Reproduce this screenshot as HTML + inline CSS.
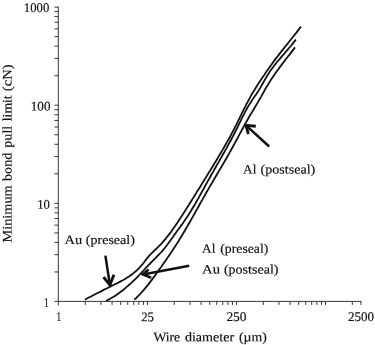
<!DOCTYPE html>
<html><head><meta charset="utf-8"><title>Minimum bond pull limit</title>
<style>
html,body{margin:0;padding:0;background:#fff}
svg{display:block}
text{font-family:"Liberation Serif","Times New Roman",serif;font-size:14px;fill:#111;stroke:#111;stroke-width:0.18px}
</style></head><body>
<svg width="375" height="345" viewBox="0 0 375 345">
<rect width="375" height="345" fill="#fff"/>
<path d="M58.30 6.61V305.50M54.40 301.40H361.42M54.40 271.96H58.30M54.40 254.68H58.30M54.40 242.42H58.30M54.40 232.91H58.30M54.40 225.14H58.30M54.40 218.57H58.30M54.40 212.88H58.30M54.40 207.86H58.30M54.40 203.37H58.30M54.40 173.83H58.30M54.40 156.55H58.30M54.40 144.29H58.30M54.40 134.78H58.30M54.40 127.01H58.30M54.40 120.44H58.30M54.40 114.75H58.30M54.40 109.73H58.30M54.40 105.24H58.30M54.40 75.70H58.30M54.40 58.42H58.30M54.40 46.16H58.30M54.40 36.65H58.30M54.40 28.88H58.30M54.40 22.31H58.30M54.40 16.62H58.30M54.40 11.60H58.30M54.40 7.11H58.30M85.29 301.50V304.90M100.96 301.50V304.90M112.08 301.50V304.90M120.71 301.50V304.90M127.76 301.50V304.90M133.71 301.50V304.90M138.88 301.50V304.90M143.43 301.50V304.90M147.50 301.50V304.90M174.29 301.50V304.90M189.96 301.50V304.90M201.08 301.50V304.90M209.71 301.50V304.90M216.76 301.50V304.90M222.71 301.50V304.90M227.88 301.50V304.90M232.43 301.50V304.90M236.50 301.50V304.90M263.29 301.50V304.90M278.96 301.50V304.90M290.08 301.50V304.90M298.71 301.50V304.90M305.76 301.50V304.90M311.71 301.50V304.90M316.88 301.50V304.90M321.43 301.50V304.90M325.50 301.50V304.90M352.29 301.50V304.90M360.92 301.50V304.90" fill="none" stroke="#2b2b2b" stroke-width="0.95"/>
<g fill="none" stroke="#111" stroke-width="1.8" stroke-linejoin="round" stroke-linecap="butt"><path d="M84.8 299.7 L87.0 298.5 L89.3 297.3 L91.5 296.2 L93.8 295.0 L96.0 293.8 L98.2 292.7 L100.5 291.6 L102.7 290.4 L104.9 289.3 L107.2 288.2 L109.4 287.0 L111.6 285.9 L113.9 284.8 L116.1 283.7 L118.4 282.6 L120.6 281.4 L122.9 280.2 L125.1 278.9 L127.2 277.6 L129.4 276.2 L131.4 274.7 L133.5 273.1 L135.4 271.5 L137.3 269.8 L139.1 268.0 L140.8 266.2 L142.4 264.4 L143.9 262.5 L145.3 260.5 L146.8 258.6 L148.4 256.7 L150.0 254.9 L151.8 253.1 L153.6 251.3 L155.5 249.5 L157.4 247.7 L159.2 245.9 L161.0 244.1 L162.7 242.2 L164.3 240.3 L166.0 238.3 L167.5 236.4 L169.1 234.4 L170.6 232.4 L172.0 230.4 L173.5 228.3 L174.9 226.3 L176.3 224.2 L177.7 222.2 L179.1 220.1 L180.5 218.0 L181.8 215.9 L183.2 213.8 L184.5 211.7 L185.9 209.5 L187.2 207.4 L188.6 205.3 L189.9 203.2 L191.3 201.0 L192.6 198.9 L193.9 196.7 L195.3 194.6 L196.6 192.4 L197.9 190.3 L199.3 188.2 L200.6 186.0 L201.9 183.9 L203.2 181.7 L204.6 179.6 L205.9 177.4 L207.2 175.3 L208.5 173.1 L209.9 171.0 L211.2 168.8 L212.5 166.7 L213.8 164.5 L215.1 162.4 L216.4 160.2 L217.7 158.1 L219.0 155.9 L220.3 153.7 L221.6 151.6 L222.9 149.4 L224.1 147.2 L225.4 145.0 L226.6 142.9 L227.8 140.7 L229.1 138.5 L230.3 136.3 L231.4 134.1 L232.6 131.8 L233.8 129.6 L234.9 127.4 L236.1 125.1 L237.2 122.9 L238.3 120.6 L239.4 118.4 L240.5 116.1 L241.6 113.8 L242.7 111.6 L243.8 109.3 L245.0 107.1 L246.1 104.8 L247.3 102.6 L248.5 100.4 L249.7 98.1 L250.9 95.9 L252.1 93.8 L253.4 91.6 L254.8 89.4 L256.1 87.3 L257.5 85.1 L258.8 83.0 L260.2 80.9 L261.6 78.8 L263.0 76.7 L264.4 74.7 L265.8 72.6 L267.2 70.5 L268.7 68.5 L270.1 66.5 L271.6 64.4 L273.0 62.4 L274.5 60.4 L276.0 58.4 L277.6 56.4 L279.1 54.4 L280.7 52.4 L282.2 50.4 L283.8 48.4 L285.4 46.4 L287.0 44.5 L288.5 42.5 L290.1 40.5 L291.7 38.5 L293.3 36.5 L294.8 34.6 L296.4 32.6 L297.9 30.6 L299.4 28.6 L300.9 26.6"/><path d="M106.1 300.9 L108.4 299.8 L110.6 298.5 L112.7 297.2 L114.9 295.9 L117.0 294.5 L119.1 293.0 L121.1 291.5 L123.1 290.0 L125.1 288.4 L127.0 286.7 L128.9 285.0 L130.8 283.3 L132.6 281.6 L134.5 279.8 L136.3 278.1 L138.0 276.3 L139.7 274.5 L141.5 272.6 L143.2 270.8 L144.9 269.0 L146.6 267.2 L148.3 265.3 L150.1 263.5 L151.9 261.7 L153.7 259.9 L155.5 258.1 L157.3 256.2 L159.1 254.4 L160.9 252.5 L162.6 250.6 L164.2 248.7 L165.7 246.7 L167.2 244.8 L168.7 242.8 L170.2 240.7 L171.6 238.7 L173.1 236.7 L174.5 234.6 L176.0 232.6 L177.5 230.5 L179.0 228.5 L180.5 226.4 L182.0 224.4 L183.5 222.3 L184.9 220.2 L186.4 218.1 L187.8 216.0 L189.1 213.8 L190.5 211.7 L191.8 209.5 L193.1 207.3 L194.4 205.2 L195.7 203.0 L196.9 200.8 L198.2 198.6 L199.4 196.4 L200.6 194.2 L201.8 192.0 L203.1 189.8 L204.3 187.5 L205.5 185.3 L206.7 183.1 L207.9 180.9 L209.2 178.7 L210.4 176.5 L211.6 174.3 L212.9 172.1 L214.1 169.9 L215.4 167.7 L216.6 165.5 L217.9 163.3 L219.2 161.1 L220.4 158.9 L221.7 156.7 L222.9 154.5 L224.2 152.3 L225.4 150.1 L226.7 147.9 L227.9 145.6 L229.1 143.4 L230.3 141.2 L231.5 139.0 L232.7 136.7 L233.9 134.5 L235.0 132.2 L236.1 130.0 L237.3 127.7 L238.4 125.4 L239.5 123.1 L240.6 120.8 L241.7 118.6 L242.8 116.3 L244.0 114.1 L245.1 111.9 L246.3 109.7 L247.5 107.5 L248.8 105.4 L250.1 103.2 L251.5 101.1 L252.9 99.0 L254.4 96.8 L255.9 94.7 L257.4 92.6 L258.7 90.4 L260.0 88.3 L261.2 86.1 L262.4 84.0 L263.7 81.8 L264.9 79.6 L266.2 77.5 L267.5 75.3 L268.8 73.2 L270.2 71.1 L271.7 69.0 L273.2 67.0 L274.7 65.0 L276.3 63.0 L277.9 61.0 L279.6 59.1 L281.2 57.1 L282.9 55.2 L284.6 53.3 L286.2 51.3 L287.9 49.4 L289.5 47.5 L291.2 45.5 L292.7 43.6 L294.3 41.6 L295.8 39.6"/><path d="M134.3 299.7 L136.2 298.0 L138.0 296.2 L139.8 294.4 L141.5 292.5 L143.2 290.6 L144.8 288.7 L146.4 286.8 L148.0 284.9 L149.5 282.9 L151.0 280.9 L152.5 278.9 L154.0 276.9 L155.4 274.9 L156.9 272.8 L158.4 270.8 L159.8 268.7 L161.3 266.7 L162.8 264.6 L164.2 262.5 L165.7 260.4 L167.1 258.3 L168.6 256.3 L170.0 254.2 L171.4 252.1 L172.8 249.9 L174.2 247.8 L175.6 245.7 L176.9 243.6 L178.3 241.4 L179.6 239.3 L180.9 237.2 L182.2 235.0 L183.5 232.8 L184.8 230.7 L186.0 228.5 L187.3 226.4 L188.5 224.2 L189.8 222.0 L191.0 219.8 L192.3 217.6 L193.5 215.5 L194.7 213.3 L195.9 211.1 L197.2 208.9 L198.4 206.7 L199.6 204.5 L200.8 202.3 L202.1 200.1 L203.3 197.9 L204.6 195.7 L205.8 193.5 L207.1 191.3 L208.3 189.1 L209.6 186.9 L210.9 184.8 L212.2 182.6 L213.4 180.4 L214.7 178.2 L216.0 176.0 L217.3 173.8 L218.6 171.6 L219.9 169.4 L221.2 167.2 L222.5 165.0 L223.8 162.8 L225.0 160.7 L226.3 158.5 L227.6 156.3 L228.8 154.1 L230.0 151.9 L231.2 149.7 L232.4 147.5 L233.6 145.3 L234.8 143.1 L236.0 141.0 L237.2 138.8 L238.3 136.6 L239.5 134.4 L240.7 132.2 L241.9 130.0 L243.1 127.8 L244.3 125.6 L245.5 123.4 L246.7 121.2 L248.0 119.0 L249.2 116.8 L250.5 114.6 L251.9 112.4 L253.2 110.2 L254.5 108.0 L255.8 105.8 L257.1 103.6 L258.4 101.4 L259.6 99.2 L260.9 97.1 L262.1 94.9 L263.3 92.7 L264.5 90.5 L265.7 88.4 L267.0 86.2 L268.3 84.1 L269.6 82.0 L270.9 79.9 L272.3 77.8 L273.7 75.7 L275.1 73.6 L276.6 71.5 L278.1 69.5 L279.6 67.4 L281.2 65.4 L282.7 63.4 L284.3 61.4 L285.8 59.3 L287.4 57.3 L288.9 55.3 L290.5 53.4 L292.0 51.4 L293.5 49.4 L295.0 47.4"/></g>
<g fill="none" stroke="#111" stroke-width="2.2" stroke-linejoin="miter" stroke-linecap="butt"><path d="M105.4 255.6L109.9 285.0" stroke-width="2.5"/><path d="M103.5 277.2L109.9 285.0L113.9 274.8" stroke-width="2.9"/><path d="M189.2 265.7L142.9 274.4" stroke-width="2.5"/><path d="M148.6 269.6L142.9 274.4L151.2 277.8" stroke-width="2.6"/><path d="M269.2 146.5L246.0 125.4" stroke-width="2.5"/><path d="M255.8 126.2L246.0 125.4L248.4 134.2" stroke-width="2.9"/></g>
<text transform="translate(23.87 11.91) rotate(0.03) scale(0.907 0.95)">1000</text>
<text transform="translate(30.83 110.54) rotate(0.03) scale(0.935 0.95)">100</text>
<text transform="translate(37.17 208.67) rotate(0.03) scale(0.906 0.95)">10</text>
<text transform="translate(43.93 306.80) rotate(0.03) scale(0.698 0.95)">1</text>
<text transform="translate(56.38 321.00) rotate(0.03) scale(0.657 0.95)">1</text>
<text transform="translate(141.24 321.20) rotate(0.03) scale(0.908 0.95)">25</text>
<text transform="translate(226.40 321.00) rotate(0.03) scale(0.961 0.95)">250</text>
<text transform="translate(347.92 321.00) rotate(0.03) scale(0.934 0.95)">2500</text>
<g><text transform="translate(64.58 244.00) rotate(0.03) scale(1.032 0.92)">Au</text> <text transform="translate(85.78 244.00) rotate(0.03) scale(1.005 0.92)">(preseal)</text></g>
<g><text transform="translate(202.09 252.80) rotate(0.03) scale(0.946 0.92)">Al</text> <text transform="translate(220.29 252.80) rotate(0.03) scale(0.982 0.92)">(preseal)</text></g>
<g><text transform="translate(202.07 273.50) rotate(0.03) scale(1.050 0.92)">Au</text> <text transform="translate(223.88 273.50) rotate(0.03) scale(1.005 0.92)">(postseal)</text></g>
<g><text transform="translate(243.09 173.40) rotate(0.03) scale(0.946 0.92)">Al</text> <text transform="translate(260.58 173.40) rotate(0.03) scale(1.006 0.92)">(postseal)</text></g>
<g><text transform="translate(153.40 341.30) rotate(0.03) scale(0.974 0.94)">Wire</text> <text transform="translate(184.90 341.30) rotate(0.03) scale(1.007 0.94)">diameter</text> <text transform="translate(238.89 341.30) rotate(0.03) scale(0.985 0.94)">(µm)</text></g>
<g transform="translate(11.4 241.9) rotate(-90)"><text transform="translate(-0.49 0.00) rotate(0.03) scale(1.019 0.93)">Minimum</text> <text transform="translate(60.90 0.00) rotate(0.03) scale(1.011 0.93)">bond</text> <text transform="translate(94.15 0.00) rotate(0.03) scale(1.012 0.93)">pull</text> <text transform="translate(120.66 0.00) rotate(0.03) scale(0.980 0.93)">limit</text> <text transform="translate(150.75 0.00) rotate(0.03) scale(1.046 0.93)">(cN)</text></g>
</svg>
</body></html>
